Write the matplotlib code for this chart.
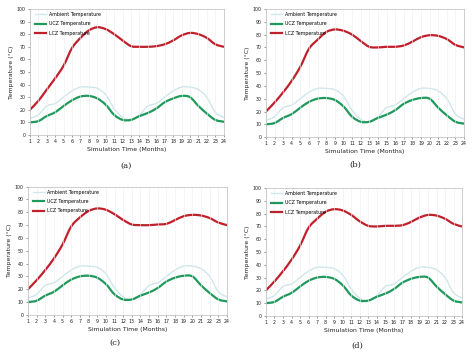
import matplotlib
matplotlib.use("Agg")
import matplotlib.pyplot as plt
from matplotlib.path import Path
from matplotlib.patches import PathPatch
import numpy as np

# months on the x axis
months = list(range(1, 25))

# ambient temperature (same in all four panels)
ambient = [13, 16, 23, 25, 30, 35, 38, 38, 37, 32, 21, 14,
           12, 16, 23, 25, 30, 35, 38, 38, 36, 30, 18, 14]

ucz_a = [10, 11, 15, 18, 23, 27.5, 30.5, 31, 29, 24, 16, 12,
         12, 15, 17.5, 21, 26, 29, 31, 30, 23, 17, 12, 10.5]
ucz_b = [10, 11, 15, 18, 23, 27.5, 30, 30.5, 29, 24, 16, 12,
         12, 15, 17.5, 21, 26, 29, 30.5, 30, 23, 17, 12, 10.5]
ucz_c = ucz_b
ucz_d = ucz_b

lcz_a = [20, 27, 36, 45, 55, 69, 77, 83, 85.5, 84, 80, 75,
         70.5, 70, 70, 70.5, 72, 75, 79, 81, 80, 77, 72, 70]
lcz_b = [20, 27, 35, 44, 55, 69, 76, 82, 84, 83, 80, 75,
         70.5, 70, 70.5, 70.5, 71.5, 74.5, 78, 79.5, 79, 76.5, 72, 70]
lcz_c = [20, 27, 35, 44, 55, 69, 76, 81, 83, 82, 78.5, 74,
         70.5, 70, 70, 70.5, 71, 74, 77, 78, 77.5, 75.5, 72, 70]
lcz_d = [20, 27, 35, 44, 55, 69, 76, 81.5, 83.5, 82.5, 79, 74,
         70.5, 70, 70.5, 70.5, 71, 73.5, 77, 79, 78.5, 76, 72, 70]

panels = [
    ("(a)", ucz_a, lcz_a, [0.063, 0.624, 0.409, 0.351], (0.265, 0.537)),
    ("(b)", ucz_b, lcz_b, [0.561, 0.618, 0.418, 0.357], (0.749, 0.540)),
    ("(c)", ucz_c, lcz_c, [0.059, 0.123, 0.420, 0.357], (0.243, 0.045)),
    ("(d)", ucz_d, lcz_d, [0.561, 0.120, 0.414, 0.356], (0.753, 0.036)),
]

AMB_COLOR = "#cfe6ea"
UCZ_COLOR = "#1f9a5c"
LCZ_COLOR = "#c0202c"


def smooth_line(ax, xs, ys, color, lw, label):
    # Excel-style smoothed line: Catmull-Rom through the points, drawn as Bezier
    x = np.asarray(xs, float)
    y = np.asarray(ys, float)
    verts = [(x[0], y[0])]
    codes = [Path.MOVETO]
    n = len(x)
    for i in range(n - 1):
        x0, y0 = (x[i - 1], y[i - 1]) if i > 0 else (x[i], y[i])
        x3, y3 = (x[i + 2], y[i + 2]) if i + 2 < n else (x[i + 1], y[i + 1])
        c1 = (x[i] + (x[i + 1] - x0) / 6, y[i] + (y[i + 1] - y0) / 6)
        c2 = (x[i + 1] - (x3 - x[i]) / 6, y[i + 1] - (y3 - y[i]) / 6)
        verts += [c1, c2, (x[i + 1], y[i + 1])]
        codes += [Path.CURVE4] * 3
    ax.add_patch(PathPatch(Path(verts, codes), facecolor="none",
                           edgecolor=color, lw=lw, capstyle="round"))
    ax.plot([], [], color=color, lw=lw, label=label)


fig = plt.figure(figsize=(4.74, 3.59), dpi=100)

for tag, ucz, lcz, rect, lab_pos in panels:
    ax = fig.add_axes(rect)
    smooth_line(ax, months, ambient, AMB_COLOR, 1.0, "Ambient Temperature")
    smooth_line(ax, months, ucz, UCZ_COLOR, 1.6, "UCZ Temperature")
    smooth_line(ax, months, lcz, LCZ_COLOR, 1.6, "LCZ Temperature")

    ax.set_xlim(1, 24)
    ax.set_ylim(0, 100)
    ax.set_xticks(months)
    ax.set_yticks(range(0, 101, 10))
    ax.tick_params(labelsize=3.4, length=1.5, width=0.4, pad=1.5,
                   colors="#555555", labelcolor="#222222")
    ax.grid(axis="x", color="#eeeeee", lw=0.4)
    for s in ax.spines.values():
        s.set_color("#bbbbbb")
        s.set_linewidth(0.5)

    ax.set_xlabel("Simulation Time (Months)", fontsize=4.4, labelpad=2,
                  color="#222222")
    ax.set_ylabel("Temperature (°C)", fontsize=4.4, labelpad=2,
                  color="#222222")

    ax.legend(loc="upper left", fontsize=3.4, frameon=False,
              handlelength=2.4, handletextpad=0.6, borderaxespad=0.2,
              labelspacing=0.95, bbox_to_anchor=(0.01, 1.0))

    fig.text(lab_pos[0], lab_pos[1], tag, fontsize=6, family="serif",
             ha="center", va="center", color="#222222")

fig.savefig("out.png", dpi=100)
